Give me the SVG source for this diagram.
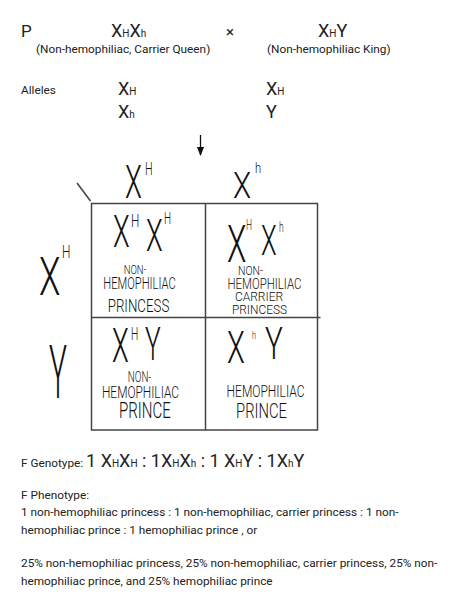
<svg xmlns="http://www.w3.org/2000/svg" width="474" height="597" viewBox="0 0 474 597">
<defs>
<marker id="ah" viewBox="0 0 10 10" refX="9" refY="5" markerWidth="7" markerHeight="7" orient="auto">
<path d="M0,1 L10,5 L0,9 z" fill="#111"/>
</marker>
<style>
.t{font-family:Roboto,"Liberation Sans",sans-serif;fill:#222;}
.s{font-size:11.8px;}
.b{font-size:18px;}
.sub{font-size:10px;}
.h{font-family:Roboto,"Liberation Sans",sans-serif;font-weight:300;fill:#111;}
.lab{font-family:Roboto,"Liberation Sans",sans-serif;font-weight:300;fill:#111;text-anchor:middle;}
.grid{fill:none;stroke:#444;stroke-width:1.5;}
</style>
</defs>
<rect width="474" height="597" fill="#fff"/>

<g id="parents">
<text class="t" x="21" y="37" font-size="17">P</text>
<text class="t b" x="111" y="37">X<tspan class="sub">H</tspan>X<tspan class="sub">h</tspan></text>
<text class="t" x="226" y="37" font-size="15">×</text>
<text class="t b" x="318" y="37">X<tspan class="sub">H</tspan>Y</text>
<text class="t s" x="36" y="53">(Non-hemophiliac, Carrier Queen)</text>
<text class="t s" x="267" y="53">(Non-hemophiliac King)</text>
</g>

<g id="alleles">
<text class="t s" x="21" y="94">Alleles</text>
<text class="t b" x="118" y="95">X<tspan class="sub">H</tspan></text>
<text class="t b" x="118" y="118">X<tspan class="sub">h</tspan></text>
<text class="t b" x="266" y="95">X<tspan class="sub">H</tspan></text>
<text class="t b" x="266" y="118">Y</text>
</g>

<g id="connectors">
<line x1="200.5" y1="135" x2="200.5" y2="155" stroke="#111" stroke-width="1.3" marker-end="url(#ah)"/>
</g>

<g id="punnett-grid">
<rect class="grid" x="91.5" y="203.5" width="226" height="226.5"/>
<line class="grid" x1="205.5" y1="203.5" x2="205.5" y2="430"/>
<line class="grid" x1="91.5" y1="317.5" x2="320.5" y2="317.5"/>
<line class="grid" x1="77" y1="183" x2="90.5" y2="201"/>
</g>

<g id="col-XH">
<text class="h" transform="scale(0.6,1)"><tspan x="208.3" y="198" font-size="46">X</tspan><tspan x="241.7" y="175" font-size="18">H</tspan></text>
</g>
<g id="col-Xh">
<text class="h" transform="scale(0.8,1)"><tspan x="291.3" y="198" font-size="37">X</tspan><tspan x="318.8" y="173" font-size="14">h</tspan></text>
</g>
<g id="row-XH">
<text class="h" transform="scale(0.66,1)"><tspan x="59.1" y="295" font-size="53">X</tspan><tspan x="93.9" y="258" font-size="18">H</tspan></text>
</g>
<g id="row-Y">
<text class="h" transform="scale(0.4,1)" x="122.5" y="398" font-size="75">Y</text>
</g>

<g id="cell-XHXH">
<text class="h" transform="scale(0.62,1)"><tspan x="182.3" y="247" font-size="44">X</tspan><tspan x="211.3" y="227" font-size="19">H</tspan><tspan x="235.5" y="251" font-size="44">X</tspan><tspan x="264.5" y="224" font-size="16">H</tspan></text>
<text class="lab" transform="scale(0.7,1)"><tspan x="192.9" y="274" font-size="13.5">NON-</tspan><tspan x="199.3" y="289" font-size="16">HEMOPHILIAC</tspan><tspan x="197.9" y="312" font-size="19">PRINCESS</tspan></text>
</g>

<g id="cell-XHXh">
<text class="h" transform="scale(0.61,1)"><tspan x="372.1" y="262" font-size="52">X</tspan><tspan x="403.3" y="230" font-size="14">H</tspan><tspan x="427.9" y="255" font-size="42">X</tspan><tspan x="457.4" y="232" font-size="14">h</tspan></text>
<text class="lab" transform="scale(0.87,1)" x="287.9" y="275" font-size="12">NON-</text>
<text class="lab" transform="scale(0.815,1)" x="324.5" y="289" font-size="14">HEMOPHILIAC</text>
<text class="lab" transform="scale(0.96,1)" x="269.8" y="301.5" font-size="12.5">CARRIER</text>
<text class="lab" transform="scale(0.88,1)" x="294.9" y="314" font-size="13.5">PRINCESS</text>
</g>

<g id="cell-XHY">
<text class="h" transform="scale(0.57,1)"><tspan x="196.5" y="362" font-size="48">X</tspan><tspan x="229.8" y="340" font-size="18">H</tspan><tspan x="254.4" y="360" font-size="46">Y</tspan></text>
<text class="lab" transform="scale(0.7,1)"><tspan x="199.3" y="382" font-size="14">NON-</tspan><tspan x="200.7" y="398" font-size="17">HEMOPHILIAC</tspan><tspan x="207.1" y="418" font-size="21.5">PRINCE</tspan></text>
</g>

<g id="cell-XhY">
<text class="h" transform="scale(0.66,1)"><tspan x="343.9" y="363" font-size="44">X</tspan><tspan x="381.8" y="339" font-size="11">h</tspan><tspan x="401.5" y="359" font-size="45">Y</tspan></text>
<text class="lab" transform="scale(0.7,1)"><tspan x="379.3" y="397" font-size="17.2">HEMOPHILIAC</tspan><tspan x="373.6" y="418" font-size="21.1">PRINCE</tspan></text>
</g>

<g id="genotype">
<text class="t s" x="21" y="467">F Genotype: <tspan class="b">1 X</tspan><tspan class="sub">H</tspan><tspan class="b">X</tspan><tspan class="sub">H</tspan><tspan class="b"> : 1X</tspan><tspan class="sub">H</tspan><tspan class="b">X</tspan><tspan class="sub">h</tspan><tspan class="b"> : 1 X</tspan><tspan class="sub">H</tspan><tspan class="b">Y : 1X</tspan><tspan class="sub">h</tspan><tspan class="b">Y</tspan></text>
</g>

<g id="phenotype">
<text class="t s" x="21" y="499">F Phenotype:</text>
<text class="t s" x="21" y="516">1 non-hemophiliac princess : 1 non-hemophiliac, carrier princess : 1 non-</text>
<text class="t s" x="21" y="534">hemophiliac prince : 1 hemophiliac prince , or</text>
<text class="t s" x="21" y="567">25% non-hemophiliac princess, 25% non-hemophiliac, carrier princess, 25% non-</text>
<text class="t s" x="21" y="585">hemophiliac prince, and 25% hemophiliac prince</text>
</g>
</svg>
